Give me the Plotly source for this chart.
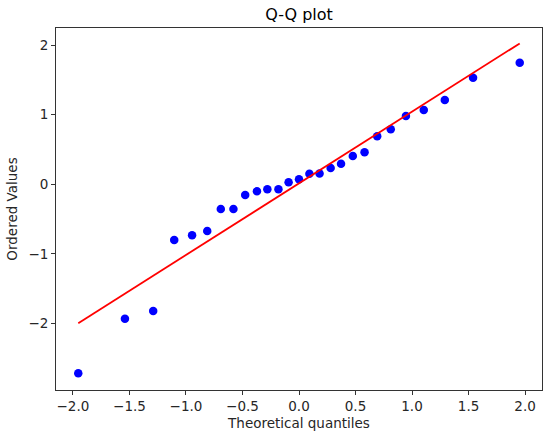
import plotly.graph_objects as go

# theoretical quantiles and ordered sample values
theoretical_q = [-1.953, -1.540, -1.290, -1.104, -0.946, -0.812, -0.692, -0.580,
                 -0.476, -0.372, -0.280, -0.182, -0.092, 0.000, 0.092, 0.182,
                 0.280, 0.372, 0.476, 0.580, 0.692, 0.812, 0.946, 1.104,
                 1.290, 1.540, 1.953]
ordered_vals = [-2.714, -1.930, -1.819, -0.800, -0.733, -0.671, -0.355, -0.355,
                -0.154, -0.101, -0.072, -0.072, 0.030, 0.072, 0.150, 0.156,
                0.234, 0.296, 0.406, 0.459, 0.689, 0.790, 0.981, 1.067,
                1.210, 1.531, 1.746]

# least squares fit line endpoints
fit_x = [-1.953, 1.953]
fit_y = [-1.996, 2.024]

x_ticks = [-2.0, -1.5, -1.0, -0.5, 0.0, 0.5, 1.0, 1.5, 2.0]
y_ticks = [-2, -1, 0, 1, 2]

fig = go.Figure()
fig.add_trace(go.Scatter(x=theoretical_q, y=ordered_vals, mode="markers",
                         marker=dict(color="#0000ff", size=8.5), showlegend=False))
fig.add_trace(go.Scatter(x=fit_x, y=fit_y, mode="lines",
                         line=dict(color="#ff0000", width=1.8), showlegend=False))

axis_style = dict(showgrid=False, zeroline=False, showline=True, linecolor="#333333",
                  linewidth=1, mirror=True, ticks="outside", ticklen=4, automargin=False,
                  tickcolor="#333333", tickfont=dict(size=13.5, color="#262626"))

fig.update_xaxes(range=[-2.15, 2.15], tickvals=x_ticks, tickformat=".1f",
                 title=dict(text="Theoretical quantiles", font=dict(size=13.5, color="#262626"),
                            standoff=5),
                 **axis_style)
fig.update_yaxes(range=[-2.955, 2.245], tickvals=y_ticks,
                 title=dict(text="Ordered Values", font=dict(size=13.5, color="#262626"),
                            standoff=7),
                 **axis_style)

fig.update_layout(
    width=550, height=438,
    margin=dict(l=56, r=8, t=28, b=48),
    paper_bgcolor="white", plot_bgcolor="white",
    font=dict(family="DejaVu Sans", color="#262626"),
    title=dict(text="Q-Q plot", x=0.5, xref="paper", y=1 - 14 / 438, yref="container",
               yanchor="middle", font=dict(size=16, color="#000000")),
)

# drop the browser's default body margin so the figure sits at the window origin
fig.write_html("out.html", config={"displayModeBar": False},
               post_script="document.body.style.margin='0';")
